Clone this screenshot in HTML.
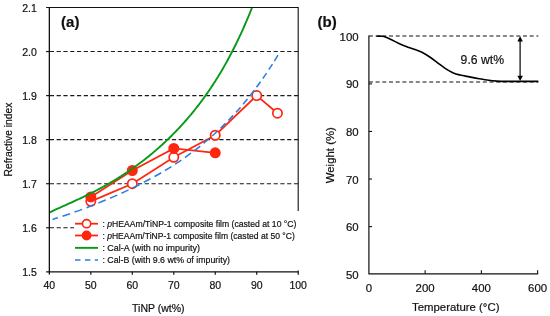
<!DOCTYPE html>
<html lang="en"><head><meta charset="utf-8"><title>Figure</title>
<style>html,body{margin:0;padding:0;background:#fff;}body{width:550px;height:316px;overflow:hidden;}svg{display:block;}text{font-family:"Liberation Sans", Arial, Helvetica, sans-serif;fill:#111;stroke:#111;stroke-width:0.2px;}</style>
</head><body>
<svg width="550" height="316" viewBox="0 0 550 316">
<rect width="550" height="316" fill="#fff"/>
<g id="plot-a">
<line x1="49.35" y1="51.55" x2="298.20" y2="51.55" stroke="#1a1a1a" stroke-width="1.1" stroke-dasharray="4.2 2.58" stroke-dashoffset="-0.5"/>
<line x1="49.35" y1="95.60" x2="298.20" y2="95.60" stroke="#1a1a1a" stroke-width="1.1" stroke-dasharray="4.2 2.58" stroke-dashoffset="-0.5"/>
<line x1="49.35" y1="139.65" x2="298.20" y2="139.65" stroke="#1a1a1a" stroke-width="1.1" stroke-dasharray="4.2 2.58" stroke-dashoffset="-0.5"/>
<line x1="49.35" y1="183.70" x2="298.20" y2="183.70" stroke="#1a1a1a" stroke-width="1.1" stroke-dasharray="4.2 2.58" stroke-dashoffset="-0.5"/>
<line x1="49.35" y1="227.75" x2="298.20" y2="227.75" stroke="#1a1a1a" stroke-width="1.1" stroke-dasharray="4.2 2.58" stroke-dashoffset="-0.5"/>
<polyline points="90.83,201.32 132.30,183.70 173.78,157.27 215.25,135.24 256.73,95.60 277.46,113.22" fill="none" stroke="#ff2610" stroke-width="1.75"/>
<circle cx="90.83" cy="201.32" r="4.65" fill="#fff" stroke="#ff2610" stroke-width="1.7"/>
<circle cx="132.30" cy="183.70" r="4.65" fill="#fff" stroke="#ff2610" stroke-width="1.7"/>
<circle cx="173.78" cy="157.27" r="4.65" fill="#fff" stroke="#ff2610" stroke-width="1.7"/>
<circle cx="215.25" cy="135.24" r="4.65" fill="#fff" stroke="#ff2610" stroke-width="1.7"/>
<circle cx="256.73" cy="95.60" r="4.65" fill="#fff" stroke="#ff2610" stroke-width="1.7"/>
<circle cx="277.46" cy="113.22" r="4.65" fill="#fff" stroke="#ff2610" stroke-width="1.7"/>
<polyline points="90.83,196.92 132.30,170.49 173.78,148.46 215.25,152.87" fill="none" stroke="#ff2610" stroke-width="1.75"/>
<circle cx="90.83" cy="196.92" r="4.65" fill="#ff2610" stroke="#ff2610" stroke-width="1.7"/>
<circle cx="132.30" cy="170.49" r="4.65" fill="#ff2610" stroke="#ff2610" stroke-width="1.7"/>
<circle cx="173.78" cy="148.46" r="4.65" fill="#ff2610" stroke="#ff2610" stroke-width="1.7"/>
<circle cx="215.25" cy="152.87" r="4.65" fill="#ff2610" stroke="#ff2610" stroke-width="1.7"/>
<path d="M49.35 212.52 L50.37 212.04 L51.39 211.56 L52.41 211.08 L53.42 210.61 L54.44 210.14 L55.46 209.67 L56.48 209.20 L57.50 208.74 L58.52 208.28 L59.54 207.81 L60.56 207.35 L61.57 206.89 L62.59 206.43 L63.61 205.97 L64.63 205.52 L65.65 205.06 L66.67 204.60 L67.69 204.14 L68.70 203.68 L69.72 203.22 L70.74 202.76 L71.76 202.29 L72.78 201.83 L73.80 201.36 L74.82 200.90 L75.84 200.43 L76.85 199.96 L77.87 199.49 L78.89 199.01 L79.91 198.54 L80.93 198.06 L81.95 197.58 L82.97 197.09 L83.98 196.61 L85.00 196.12 L86.02 195.62 L87.04 195.13 L88.06 194.63 L89.08 194.13 L90.10 193.62 L91.12 193.11 L92.13 192.60 L93.15 192.09 L94.17 191.57 L95.19 191.04 L96.21 190.52 L97.23 189.98 L98.25 189.45 L99.26 188.91 L100.28 188.36 L101.30 187.82 L102.32 187.26 L103.34 186.70 L104.36 186.14 L105.38 185.58 L106.40 185.00 L107.41 184.43 L108.43 183.85 L109.45 183.26 L110.47 182.67 L111.49 182.07 L112.51 181.47 L113.53 180.86 L114.54 180.25 L115.56 179.63 L116.58 179.01 L117.60 178.38 L118.62 177.75 L119.64 177.11 L120.66 176.47 L121.68 175.81 L122.69 175.16 L123.71 174.50 L124.73 173.83 L125.75 173.15 L126.77 172.47 L127.79 171.79 L128.81 171.10 L129.82 170.40 L130.84 169.69 L131.86 168.98 L132.88 168.27 L133.90 167.54 L134.92 166.81 L135.94 166.08 L136.96 165.34 L137.97 164.59 L138.99 163.83 L140.01 163.07 L141.03 162.30 L142.05 161.52 L143.07 160.74 L144.09 159.95 L145.10 159.15 L146.12 158.35 L147.14 157.54 L148.16 156.72 L149.18 155.89 L150.20 155.06 L151.22 154.22 L152.24 153.37 L153.25 152.52 L154.27 151.65 L155.29 150.78 L156.31 149.90 L157.33 149.02 L158.35 148.12 L159.37 147.22 L160.39 146.31 L161.40 145.39 L162.42 144.46 L163.44 143.52 L164.46 142.57 L165.48 141.62 L166.50 140.66 L167.52 139.68 L168.53 138.70 L169.55 137.71 L170.57 136.71 L171.59 135.70 L172.61 134.68 L173.63 133.66 L174.65 132.62 L175.67 131.57 L176.68 130.51 L177.70 129.44 L178.72 128.36 L179.74 127.27 L180.76 126.17 L181.78 125.06 L182.80 123.93 L183.81 122.80 L184.83 121.66 L185.85 120.50 L186.87 119.33 L187.89 118.15 L188.91 116.95 L189.93 115.75 L190.95 114.53 L191.96 113.30 L192.98 112.06 L194.00 110.80 L195.02 109.53 L196.04 108.24 L197.06 106.95 L198.08 105.63 L199.09 104.31 L200.11 102.96 L201.13 101.61 L202.15 100.24 L203.17 98.85 L204.19 97.45 L205.21 96.03 L206.23 94.60 L207.24 93.14 L208.26 91.68 L209.28 90.19 L210.30 88.69 L211.32 87.17 L212.34 85.63 L213.36 84.08 L214.37 82.50 L215.39 80.91 L216.41 79.29 L217.43 77.66 L218.45 76.01 L219.47 74.34 L220.49 72.64 L221.51 70.93 L222.52 69.19 L223.54 67.43 L224.56 65.65 L225.58 63.85 L226.60 62.02 L227.62 60.17 L228.64 58.30 L229.65 56.40 L230.67 54.48 L231.69 52.53 L232.71 50.55 L233.73 48.55 L234.75 46.53 L235.77 44.47 L236.79 42.39 L237.80 40.28 L238.82 38.14 L239.84 35.97 L240.86 33.78 L241.88 31.55 L242.90 29.29 L243.92 27.00 L244.93 24.68 L245.95 22.33 L246.97 19.94 L247.99 17.52 L249.01 15.07 L250.03 12.58 L251.05 10.06 L252.07 7.50" fill="none" stroke="#069a18" stroke-width="1.9"/>
<path d="M278.00 55.21 Q276.20 58.19 274.39 61.06 M272.44 64.14 Q270.63 66.96 268.83 69.69 M266.57 73.06 Q264.54 76.06 262.81 78.52 M260.56 81.71 Q258.38 84.75 256.50 87.27 M254.24 90.27 Q252.14 93.04 250.03 95.70 M247.48 98.89 Q245.14 101.76 243.11 104.16 M240.56 107.15 Q238.30 109.76 236.05 112.25 M233.19 115.38 Q230.78 117.97 228.38 120.45 M225.52 123.36 Q222.89 126.00 220.56 128.23 M217.40 131.22 Q214.62 133.81 212.14 136.01 M208.98 138.77 Q206.27 141.11 203.57 143.34 M200.26 146.03 Q197.18 148.49 194.40 150.60 M190.94 153.20 Q187.93 155.42 184.92 157.53 M181.31 160.03 Q178.08 162.23 175.15 164.14 M171.39 166.55 Q168.01 168.68 164.92 170.53 M161.16 172.76 Q157.86 174.70 154.55 176.55 M150.49 178.78 Q146.96 180.70 143.72 182.38 M139.66 184.46 Q136.20 186.22 132.75 187.89 M128.54 189.91 Q124.85 191.66 121.47 193.20 M117.26 195.09 Q113.65 196.69 110.04 198.24 M105.68 200.08 Q101.85 201.68 98.31 203.10 M93.95 204.84 Q90.12 206.35 86.58 207.68 M82.07 209.37 Q78.31 210.77 74.55 212.10 M70.04 213.68 Q66.28 214.99 62.52 216.23 M57.86 217.75 Q55.08 218.64 52.60 219.41" fill="none" stroke="#2b7de4" stroke-width="1.55"/>
<rect x="74" y="213" width="228" height="56" fill="#fff"/>
<path d="M46.15 7.50 H298.20 V211" fill="none" stroke="#111" stroke-width="1.1"/>
<path d="M49.35 7.50 V274.60 M46.15 271.80 H298.20" fill="none" stroke="#111" stroke-width="1.3"/>
<line x1="46.15" y1="51.55" x2="49.35" y2="51.55" stroke="#111" stroke-width="1.2"/>
<line x1="46.15" y1="95.60" x2="49.35" y2="95.60" stroke="#111" stroke-width="1.2"/>
<line x1="46.15" y1="139.65" x2="49.35" y2="139.65" stroke="#111" stroke-width="1.2"/>
<line x1="46.15" y1="183.70" x2="49.35" y2="183.70" stroke="#111" stroke-width="1.2"/>
<line x1="46.15" y1="227.75" x2="49.35" y2="227.75" stroke="#111" stroke-width="1.2"/>
<line x1="90.83" y1="271.80" x2="90.83" y2="274.70" stroke="#111" stroke-width="1.2"/>
<line x1="132.30" y1="271.80" x2="132.30" y2="274.70" stroke="#111" stroke-width="1.2"/>
<line x1="173.78" y1="271.80" x2="173.78" y2="274.70" stroke="#111" stroke-width="1.2"/>
<line x1="215.25" y1="271.80" x2="215.25" y2="274.70" stroke="#111" stroke-width="1.2"/>
<line x1="256.73" y1="271.80" x2="256.73" y2="274.70" stroke="#111" stroke-width="1.2"/>
<line x1="298.20" y1="270.60" x2="298.20" y2="274.70" stroke="#111" stroke-width="1.2"/>
<text x="36.9" y="12.00" font-size="10.5" text-anchor="end">2.1</text>
<text x="36.9" y="56.05" font-size="10.5" text-anchor="end">2.0</text>
<text x="36.9" y="100.10" font-size="10.5" text-anchor="end">1.9</text>
<text x="36.9" y="144.15" font-size="10.5" text-anchor="end">1.8</text>
<text x="36.9" y="188.20" font-size="10.5" text-anchor="end">1.7</text>
<text x="36.9" y="232.25" font-size="10.5" text-anchor="end">1.6</text>
<text x="36.9" y="276.30" font-size="10.5" text-anchor="end">1.5</text>
<text x="49.35" y="288.6" font-size="10.5" text-anchor="middle">40</text>
<text x="90.83" y="288.6" font-size="10.5" text-anchor="middle">50</text>
<text x="132.30" y="288.6" font-size="10.5" text-anchor="middle">60</text>
<text x="173.78" y="288.6" font-size="10.5" text-anchor="middle">70</text>
<text x="215.25" y="288.6" font-size="10.5" text-anchor="middle">80</text>
<text x="256.73" y="288.6" font-size="10.5" text-anchor="middle">90</text>
<text x="298.20" y="288.6" font-size="10.5" text-anchor="middle">100</text>
<text x="158.3" y="311.6" font-size="10.5" text-anchor="middle">TiNP (wt%)</text>
<text transform="translate(11.7 139.5) rotate(-90)" font-size="10.5" text-anchor="middle" textLength="73.8" lengthAdjust="spacingAndGlyphs">Refractive index</text>
<text x="61" y="27.3" font-size="15" font-weight="bold" fill="#000" textLength="18.4" lengthAdjust="spacingAndGlyphs">(a)</text>
<line x1="75" y1="223.70" x2="98" y2="223.70" stroke="#ff2610" stroke-width="1.8"/>
<circle cx="86.6" cy="223.70" r="4.1" fill="#fff" stroke="#ff2610" stroke-width="1.6"/>
<line x1="75" y1="235.50" x2="98" y2="235.50" stroke="#ff2610" stroke-width="1.8"/>
<circle cx="86.6" cy="235.50" r="4.1" fill="#ff2610" stroke="#ff2610" stroke-width="1.6"/>
<line x1="75" y1="247.85" x2="98" y2="247.85" stroke="#069a18" stroke-width="1.9"/>
<line x1="75" y1="260.10" x2="98" y2="260.10" stroke="#2b7de4" stroke-width="1.5" stroke-dasharray="5.5 4.4"/>
<text x="102.4" y="227.00" font-size="9.3" fill="#000" stroke="#000" stroke-width="0.22" textLength="194" lengthAdjust="spacingAndGlyphs">: <tspan font-style="italic">p</tspan>HEAAm/TiNP-1 composite film (casted at 10 °C)</text>
<text x="102.4" y="238.80" font-size="9.3" fill="#000" stroke="#000" stroke-width="0.22" textLength="192.4" lengthAdjust="spacingAndGlyphs">: <tspan font-style="italic">p</tspan>HEAAm/TiNP-1 composite film (casted at 50 °C)</text>
<text x="102.4" y="251.15" font-size="9.3" fill="#000" stroke="#000" stroke-width="0.22" textLength="97.6" lengthAdjust="spacingAndGlyphs">: Cal-A (with no impurity)</text>
<text x="102.4" y="263.40" font-size="9.3" fill="#000" stroke="#000" stroke-width="0.22" textLength="127.6" lengthAdjust="spacingAndGlyphs">: Cal-B (with 9.6 wt% of impurity)</text>
</g>
<g id="plot-b">
<line x1="368.90" y1="36.00" x2="538.4" y2="36.00" stroke="#111" stroke-width="1.2" stroke-dasharray="4 2.7"/>
<line x1="368.90" y1="82.0" x2="538.4" y2="82.0" stroke="#111" stroke-width="1.2" stroke-dasharray="4 2.7"/>
<path d="M368.90 35.40 V273.80 H538.20" fill="none" stroke="#111" stroke-width="1.2"/>
<line x1="368.90" y1="83.88" x2="372.00" y2="83.88" stroke="#111" stroke-width="1.1"/>
<line x1="368.90" y1="131.46" x2="372.00" y2="131.46" stroke="#111" stroke-width="1.1"/>
<line x1="368.90" y1="179.04" x2="372.00" y2="179.04" stroke="#111" stroke-width="1.1"/>
<line x1="368.90" y1="226.62" x2="372.00" y2="226.62" stroke="#111" stroke-width="1.1"/>
<line x1="425.13" y1="273.80" x2="425.13" y2="270.20" stroke="#111" stroke-width="1.1"/>
<line x1="481.37" y1="273.80" x2="481.37" y2="270.20" stroke="#111" stroke-width="1.1"/>
<line x1="537.60" y1="273.80" x2="537.60" y2="270.20" stroke="#111" stroke-width="1.1"/>
<path d="M376.50 36.20 C377.33 36.20 380.25 36.13 381.50 36.20 C382.75 36.27 382.50 36.10 384.00 36.60 C385.50 37.10 388.10 38.08 390.50 39.20 C392.90 40.32 395.78 42.08 398.40 43.30 C401.02 44.52 403.58 45.50 406.20 46.50 C408.82 47.50 411.48 48.33 414.10 49.30 C416.72 50.27 419.28 51.02 421.90 52.30 C424.52 53.58 427.18 55.25 429.80 57.00 C432.42 58.75 434.98 60.87 437.60 62.80 C440.22 64.73 442.88 66.92 445.50 68.60 C448.12 70.28 450.88 71.83 453.30 72.90 C455.72 73.97 457.32 74.33 460.00 75.00 C462.68 75.67 466.23 76.28 469.40 76.90 C472.57 77.52 475.78 78.13 479.00 78.70 C482.22 79.27 485.72 79.90 488.70 80.30 C491.68 80.70 494.18 80.92 496.90 81.10 C499.62 81.28 501.15 81.35 505.00 81.40 C508.85 81.45 514.45 81.40 520.00 81.40 C525.55 81.40 535.25 81.40 538.30 81.40" fill="none" stroke="#000" stroke-width="1.6"/>
<line x1="520.1" y1="40" x2="520.1" y2="77" stroke="#000" stroke-width="1.2"/>
<path d="M520.1 36.2 L522.85 41.4 H517.35 Z M520.1 81 L522.85 75.8 H517.35 Z" fill="#000"/>
<text x="460.6" y="63.7" font-size="12.4" fill="#111" textLength="43.4" lengthAdjust="spacingAndGlyphs">9.6 wt%</text>
<text x="358.6" y="40.80" font-size="11.4" text-anchor="end">100</text>
<text x="358.6" y="88.38" font-size="11.4" text-anchor="end">90</text>
<text x="358.6" y="135.96" font-size="11.4" text-anchor="end">80</text>
<text x="358.6" y="183.54" font-size="11.4" text-anchor="end">70</text>
<text x="358.6" y="231.12" font-size="11.4" text-anchor="end">60</text>
<text x="358.6" y="278.70" font-size="11.4" text-anchor="end">50</text>
<text x="368.90" y="292.3" font-size="11.4" text-anchor="middle">0</text>
<text x="425.13" y="292.3" font-size="11.4" text-anchor="middle">200</text>
<text x="481.37" y="292.3" font-size="11.4" text-anchor="middle">400</text>
<text x="537.60" y="292.3" font-size="11.4" text-anchor="middle">600</text>
<text x="455.7" y="310.6" font-size="11.4" text-anchor="middle">Temperature (°C)</text>
<text transform="translate(333.9 155.2) rotate(-90)" font-size="11.4" text-anchor="middle">Weight (%)</text>
<text x="317.6" y="26.9" font-size="15" font-weight="bold" fill="#000" textLength="19.2" lengthAdjust="spacingAndGlyphs">(b)</text>
</g>
</svg></body></html>
